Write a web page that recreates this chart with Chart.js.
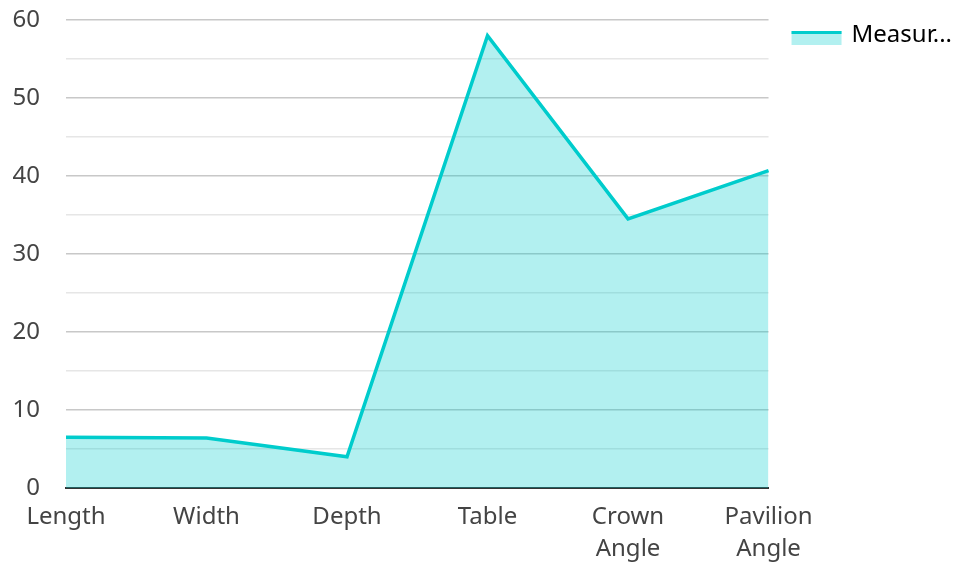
<!DOCTYPE html>
<html>
<head>
<meta charset="utf-8">
<script src="https://cdn.jsdelivr.net/npm/chart.js@4/dist/chart.umd.min.js"></script>
<style>
	html, body { margin: 0; padding: 0; background: #fff; }
	#wrap { width: 958px; height: 563px; }
</style>
</head>
<body>
<div id="wrap"><canvas id="areaChart"></canvas></div>
<script>
var categories = [['Length'], ['Width'], ['Depth'], ['Table'], ['Crown', 'Angle'], ['Pavilion', 'Angle']];
var measurements = [6.5, 6.4, 4.0, 58.0, 34.5, 40.7];
var yTicks = [0, 10, 20, 30, 40, 50, 60];
var seriesName = 'Measurements';

var lineColor = '#00cccc';
var fillColor = 'rgba(0, 204, 204, .3)';
var font = '"Noto Sans", "Open Sans", sans-serif';

Chart.defaults.font.family = font;
Chart.defaults.font.size = 24;
Chart.defaults.color = '#444';

// legend marker: filled box with the series line across its top edge
var legendMarker = {
	id: 'legendMarker',
	afterDraw: function(chart) {
		var legend = chart.legend;
		if (!legend || !legend.legendHitBoxes) return;
		var ctx = chart.ctx;
		var bh = legend.options.labels.boxHeight;
		var fs = legend.options.labels.font.size;
		legend.legendHitBoxes.forEach(function(box) {
			var y = box.top + (fs - bh) / 2 + 3;
			ctx.save();
			ctx.fillStyle = fillColor;
			ctx.fillRect(box.left, y, 50, bh);
			ctx.strokeStyle = lineColor;
			ctx.lineWidth = 3;
			ctx.beginPath();
			ctx.moveTo(box.left, y + 1.5);
			ctx.lineTo(box.left + 50, y + 1.5);
			ctx.stroke();
			ctx.restore();
		});
	}
};

new Chart(document.getElementById('areaChart'), {
	type: 'line',
	data: {
		labels: categories,
		datasets: [{
			label: seriesName,
			data: measurements,
			borderColor: lineColor,
			backgroundColor: fillColor,
			borderWidth: 3.5,
			fill: 'origin',
			pointRadius: 0,
			tension: 0
		}]
	},
	options: {
		responsive: true,
		maintainAspectRatio: false,
		animation: false,
		layout: { padding: { top: 0, left: 0, right: -4, bottom: 0 } },
		plugins: {
			tooltip: { enabled: false },
			legend: {
				position: 'right',
				align: 'start',
				labels: {
					boxWidth: 48,
					boxHeight: 14,
					padding: 23,
					color: '#222',
					font: { size: 24 },
					generateLabels: function(chart) {
						return chart.data.datasets.map(function(ds, i) {
							var text = ds.label.length > 6 ? ds.label.slice(0, 6) + '...' : ds.label;
							return {
								text: text,
								fillStyle: 'rgba(0,0,0,0)',
								strokeStyle: 'rgba(0,0,0,0)',
								lineWidth: 0,
								datasetIndex: i
							};
						});
					}
				}
			}
		},
		scales: {
			x: {
				offset: false,
				afterFit: function(axis) {
					axis.paddingLeft = 0;
					axis.paddingRight = 0;
					axis.height = 75;
				},
				grid: { display: false, drawTicks: false },
				border: { display: true, color: '#333', width: 2 },
				ticks: {
					padding: 13,
					maxRotation: 0,
					autoSkip: false,
					font: { lineHeight: 1.33 }
				}
			},
			y: {
				min: 0,
				max: 60,
				afterBuildTicks: function(axis) {
					var t = [];
					for (var v = 0; v <= 60; v += 5) t.push({ value: v });
					axis.ticks = t;
				},
				afterFit: function(axis) {
					axis.width = 66;
					axis.paddingTop = 20;
					axis.paddingBottom = 0;
				},
				grid: {
					drawTicks: false,
					color: function(c) {
						if (c.tick.value === 0) return 'rgba(0,0,0,0)';
						return yTicks.indexOf(c.tick.value) >= 0 ? '#c8c8c8' : '#e6e6e6';
					},
					lineWidth: 1.5
				},
				border: { display: false },
				ticks: {
					padding: 26,
					autoSkip: false,
					callback: function(v) {
						return yTicks.indexOf(v) >= 0 ? String(v) : '';
					}
				}
			}
		}
	},
	plugins: [legendMarker]
});
</script>
</body>
</html>
